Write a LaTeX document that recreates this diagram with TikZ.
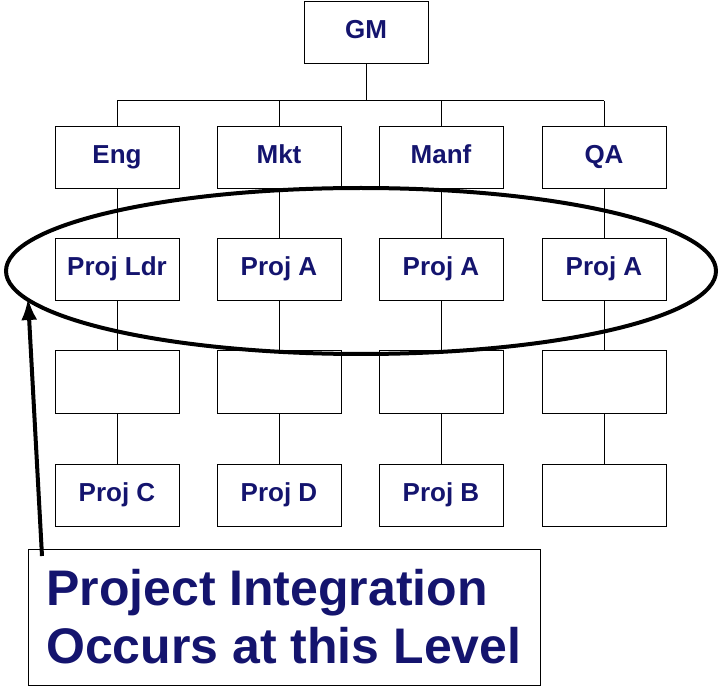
\documentclass[tikz,border=0pt]{standalone}
\usepackage{fontspec}
\setmainfont{Liberation Sans}
\usetikzlibrary{arrows.meta}
\definecolor{navy}{RGB}{20,20,110}
\begin{document}
\begin{tikzpicture}[x=1pt,y=-1pt,
  box/.style={draw,line width=1pt,minimum width=124pt,minimum height=62pt,inner sep=0pt,font=\fontsize{26}{30}\selectfont\bfseries,text=navy,text height=18pt,text depth=6pt},
  lab/.style={font=\fontsize{26}{30}\selectfont\bfseries,text=navy,text height=18pt,text depth=6pt,inner sep=0pt},
  ln/.style={line width=1pt}]
\useasboundingbox (0,0) rectangle (721,687);
\node[box] (gm) at (366,33) {GM};
\foreach \c/\x in {1/117,2/279,3/441,4/604}{
  \node[box] (a\c) at (\x,158) {};
  \node[box] (b\c) at (\x,270) {};
  \node[box] (c\c) at (\x,382) {};
  \node[box] (d\c) at (\x,495) {};
  \draw[ln] (a\c) -- (b\c);
  \draw[ln] (b\c) -- (c\c);
  \draw[ln] (c\c) -- (d\c);
  \coordinate (t\c) at (\x,101);
  \draw[ln] (t\c) -- (a\c);
}
\coordinate (tg) at (366,101);
\draw[ln] (gm) -- (tg);
\draw[ln] (t1) -- (t4);
\node[lab] at (a1) {Eng};
\node[lab] at (a2) {Mkt};
\node[lab] at (a3) {Manf};
\node[lab] at (a4) {QA};
\node[lab] at (b1) {Proj Ldr};
\node[lab] at (b2) {Proj A};
\node[lab] at (b3) {Proj A};
\node[lab] at (b4) {Proj A};
\node[lab] at (d1) {Proj C};
\node[lab] at (d2) {Proj D};
\node[lab] at (d3) {Proj B};
\draw[line width=4pt] (361,271) ellipse [x radius=355, y radius=83];
\node[draw,line width=1pt,minimum width=512pt,minimum height=136pt,inner sep=0pt] (lbl) at (284,617) {};
\node[anchor=west,align=left,text=navy,font=\fontsize{50}{58}\selectfont\bfseries,inner sep=0pt] (txt) at (46,617) {Project Integration\\Occurs at this Level};
\coordinate (tip) at (28,298);
\coordinate (base) at (42,556);
\draw[line width=4pt,-{Latex[length=22pt,width=16pt]}] (base) -- (tip);
\end{tikzpicture}
\end{document}
